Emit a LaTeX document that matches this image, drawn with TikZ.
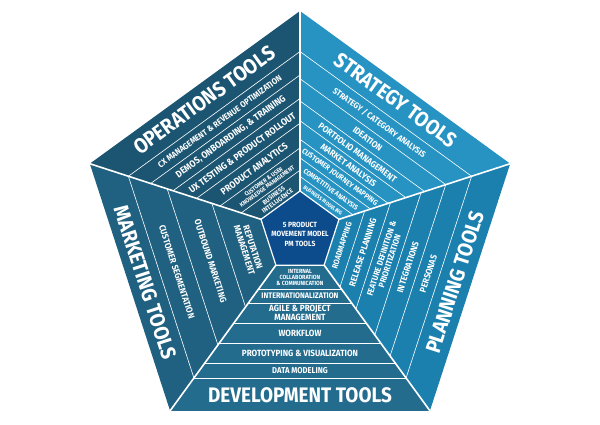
\documentclass[tikz,border=0pt]{standalone}
\usepackage{fontspec}
\setmainfont{Fira Sans}[FakeStretch=0.9]
\newcommand\bandline[1]{\draw[bl] ({-0.7265*#1},{-#1})--({0.7265*#1},{-#1});}
\newcommand\sectorbase[1]{\fill[#1] ({-0.7265*178.8},-178.8)--({0.7265*178.8},-178.8)--({0.7265*33.2},-33.2)--({-0.7265*33.2},-33.2)--cycle;}
\newcommand\fs[1]{\fontsize{#1}{#1}\selectfont}
\definecolor{cOp}{HTML}{1C5572}
\definecolor{cSt}{HTML}{2693C3}
\definecolor{cPl}{HTML}{1B80AE}
\definecolor{cDe}{HTML}{236C8E}
\definecolor{cMk}{HTML}{206181}
\definecolor{cIn}{HTML}{0D4C8C}
\begin{document}
\begin{tikzpicture}[x=1pt,y=1pt,
  bl/.style={white,line width=0.6pt},
  bd/.style={white,line width=1.6pt},
  itm/.style={text=white,font=\bfseries,align=center,inner sep=0pt},
  ttl/.style={text=white,font=\bfseries\fs{21},inner sep=0pt}]
\useasboundingbox (0,0) rectangle (600,424);
% Development
\begin{scope}[shift={(300,192)},rotate=0]
\sectorbase{cDe}
\foreach \d in {57,71,91,111,131,146}{\bandline{\d}}
\node[itm,font=\bfseries\fs{6}] (d1) at (0,-45) {INTERNAL\\COLLABORATION\\\& COMMUNICATION};
\node[itm,font=\bfseries\fs{8}] (d2) at (0,-64) {INTERNATIONALIZATION};
\node[itm,font=\bfseries\fs{9}] (d3) at (0,-81) {AGILE \& PROJECT\\MANAGEMENT};
\node[itm,font=\bfseries\fs{9}] (d4) at (0,-101) {WORKFLOW};
\node[itm,font=\bfseries\fs{9}] (d5) at (0,-121) {PROTOTYPING \& VISUALIZATION};
\node[itm,font=\bfseries\fs{8.5}] (d6) at (0,-138.5) {DATA MODELING};
\node[ttl] (dt) at (0,-163) {DEVELOPMENT TOOLS};
\end{scope}
% Planning
\begin{scope}[shift={(300,192)},rotate=72]
\sectorbase{cPl}
\foreach \d in {55,77,103,124,146}{\bandline{\d}}
\node[itm,rotate=72,font=\bfseries\fs{8}] (p1) at (0,-44) {ROADMAPPING};
\node[itm,rotate=72,font=\bfseries\fs{9}] (p2) at (0,-66) {RELEASE PLANNING};
\node[itm,rotate=72,font=\bfseries\fs{8.5}] (p3) at (0,-90) {FEATURE DEFINITION \&\\PRIORITIZATION};
\node[itm,rotate=72,font=\bfseries\fs{9}] (p4) at (0,-113.5) {INTEGRATIONS};
\node[itm,rotate=72,font=\bfseries\fs{9}] (p5) at (0,-135) {PERSONAS};
\node[ttl,rotate=72] (pt) at (0,-163) {PLANNING TOOLS};
\end{scope}
% Strategy
\begin{scope}[shift={(300,192)},rotate=144]
\sectorbase{cSt}
\foreach \d in {45,60,75,90,106,124,146}{\bandline{\d}}
\node[itm,rotate=-36,font=\bfseries\fs{5.5}] (s1) at (0,-39) {BUSINESS MODELING};
\node[itm,rotate=-36,font=\bfseries\fs{7}] (s2) at (0,-52.5) {COMPETITIVE ANALYSIS};
\node[itm,rotate=-36,font=\bfseries\fs{7.5}] (s3) at (0,-67.5) {CUSTOMER JOURNEY MAPPING};
\node[itm,rotate=-36,font=\bfseries\fs{9}] (s4) at (0,-82.5) {MARKET ANALYSIS};
\node[itm,rotate=-36,font=\bfseries\fs{9}] (s5) at (0,-98) {PORTFOLIO MANAGEMENT};
\node[itm,rotate=-36,font=\bfseries\fs{9}] (s6) at (0,-115) {IDEATION};
\node[itm,rotate=-36,font=\bfseries\fs{8.5}] (s7) at (0,-135) {STRATEGY / CATEGORY ANALYSIS};
\node[ttl,rotate=-36] (st) at (0,-163) {STRATEGY TOOLS};
\end{scope}
% Operations
\begin{scope}[shift={(300,192)},rotate=216]
\sectorbase{cOp}
\foreach \d in {50,68,88,108,127,146}{\bandline{\d}}
\node[itm,rotate=36,font=\bfseries\fs{6.5}] (o1) at (0,-41.5) {BUSINESS\\INTELLIGENCE};
\node[itm,rotate=36,font=\bfseries\fs{6}] (o2) at (0,-59) {CUSTOMER \& USER\\KNOWLEDGE MANAGEMENT};
\node[itm,rotate=36,font=\bfseries\fs{9.5}] (o3) at (0,-78) {PRODUCT ANALYTICS};
\node[itm,rotate=36,font=\bfseries\fs{9.5}] (o4) at (0,-98) {UX TESTING \& PRODUCT ROLLOUT};
\node[itm,rotate=36,font=\bfseries\fs{9.5}] (o5) at (0,-117.5) {DEMOS, ONBOARDING, \& TRAINING};
\node[itm,rotate=36,font=\bfseries\fs{8.5}] (o6) at (0,-136.5) {CX MANAGEMENT \& REVENUE OPTIMIZATION};
\node[ttl,rotate=36] (ot) at (0,-163) {OPERATIONS TOOLS};
\end{scope}
% Marketing
\begin{scope}[shift={(300,192)},rotate=288]
\sectorbase{cMk}
\foreach \d in {75,113,146}{\bandline{\d}}
\node[itm,rotate=-72,font=\bfseries\fs{9}] (m1) at (0,-54) {REPUTATION\\MANAGEMENT};
\node[itm,rotate=-72,font=\bfseries\fs{9}] (m2) at (0,-94) {OUTBOUND MARKETING};
\node[itm,rotate=-72,font=\bfseries\fs{9}] (m3) at (0,-129.5) {CUSTOMER SEGMENTATION};
\node[ttl,rotate=-72] (mt) at (0,-163) {MARKETING TOOLS};
\end{scope}
% boundaries
\begin{scope}[shift={(300,192)}]
\foreach \a in {90,162,234,306,18}{\draw[bd] (\a:40) -- (\a:221);}
\fill[cIn,draw=white,line width=1.2pt] (90:41)--(162:41)--(234:41)--(306:41)--(18:41)--cycle;
\node[itm,font=\bfseries\fs{7.5},align=center] (core) at (0,-2) {5 PRODUCT\\[2pt]MOVEMENT MODEL\\[2pt]PM TOOLS};
\end{scope}
\end{tikzpicture}
\end{document}
